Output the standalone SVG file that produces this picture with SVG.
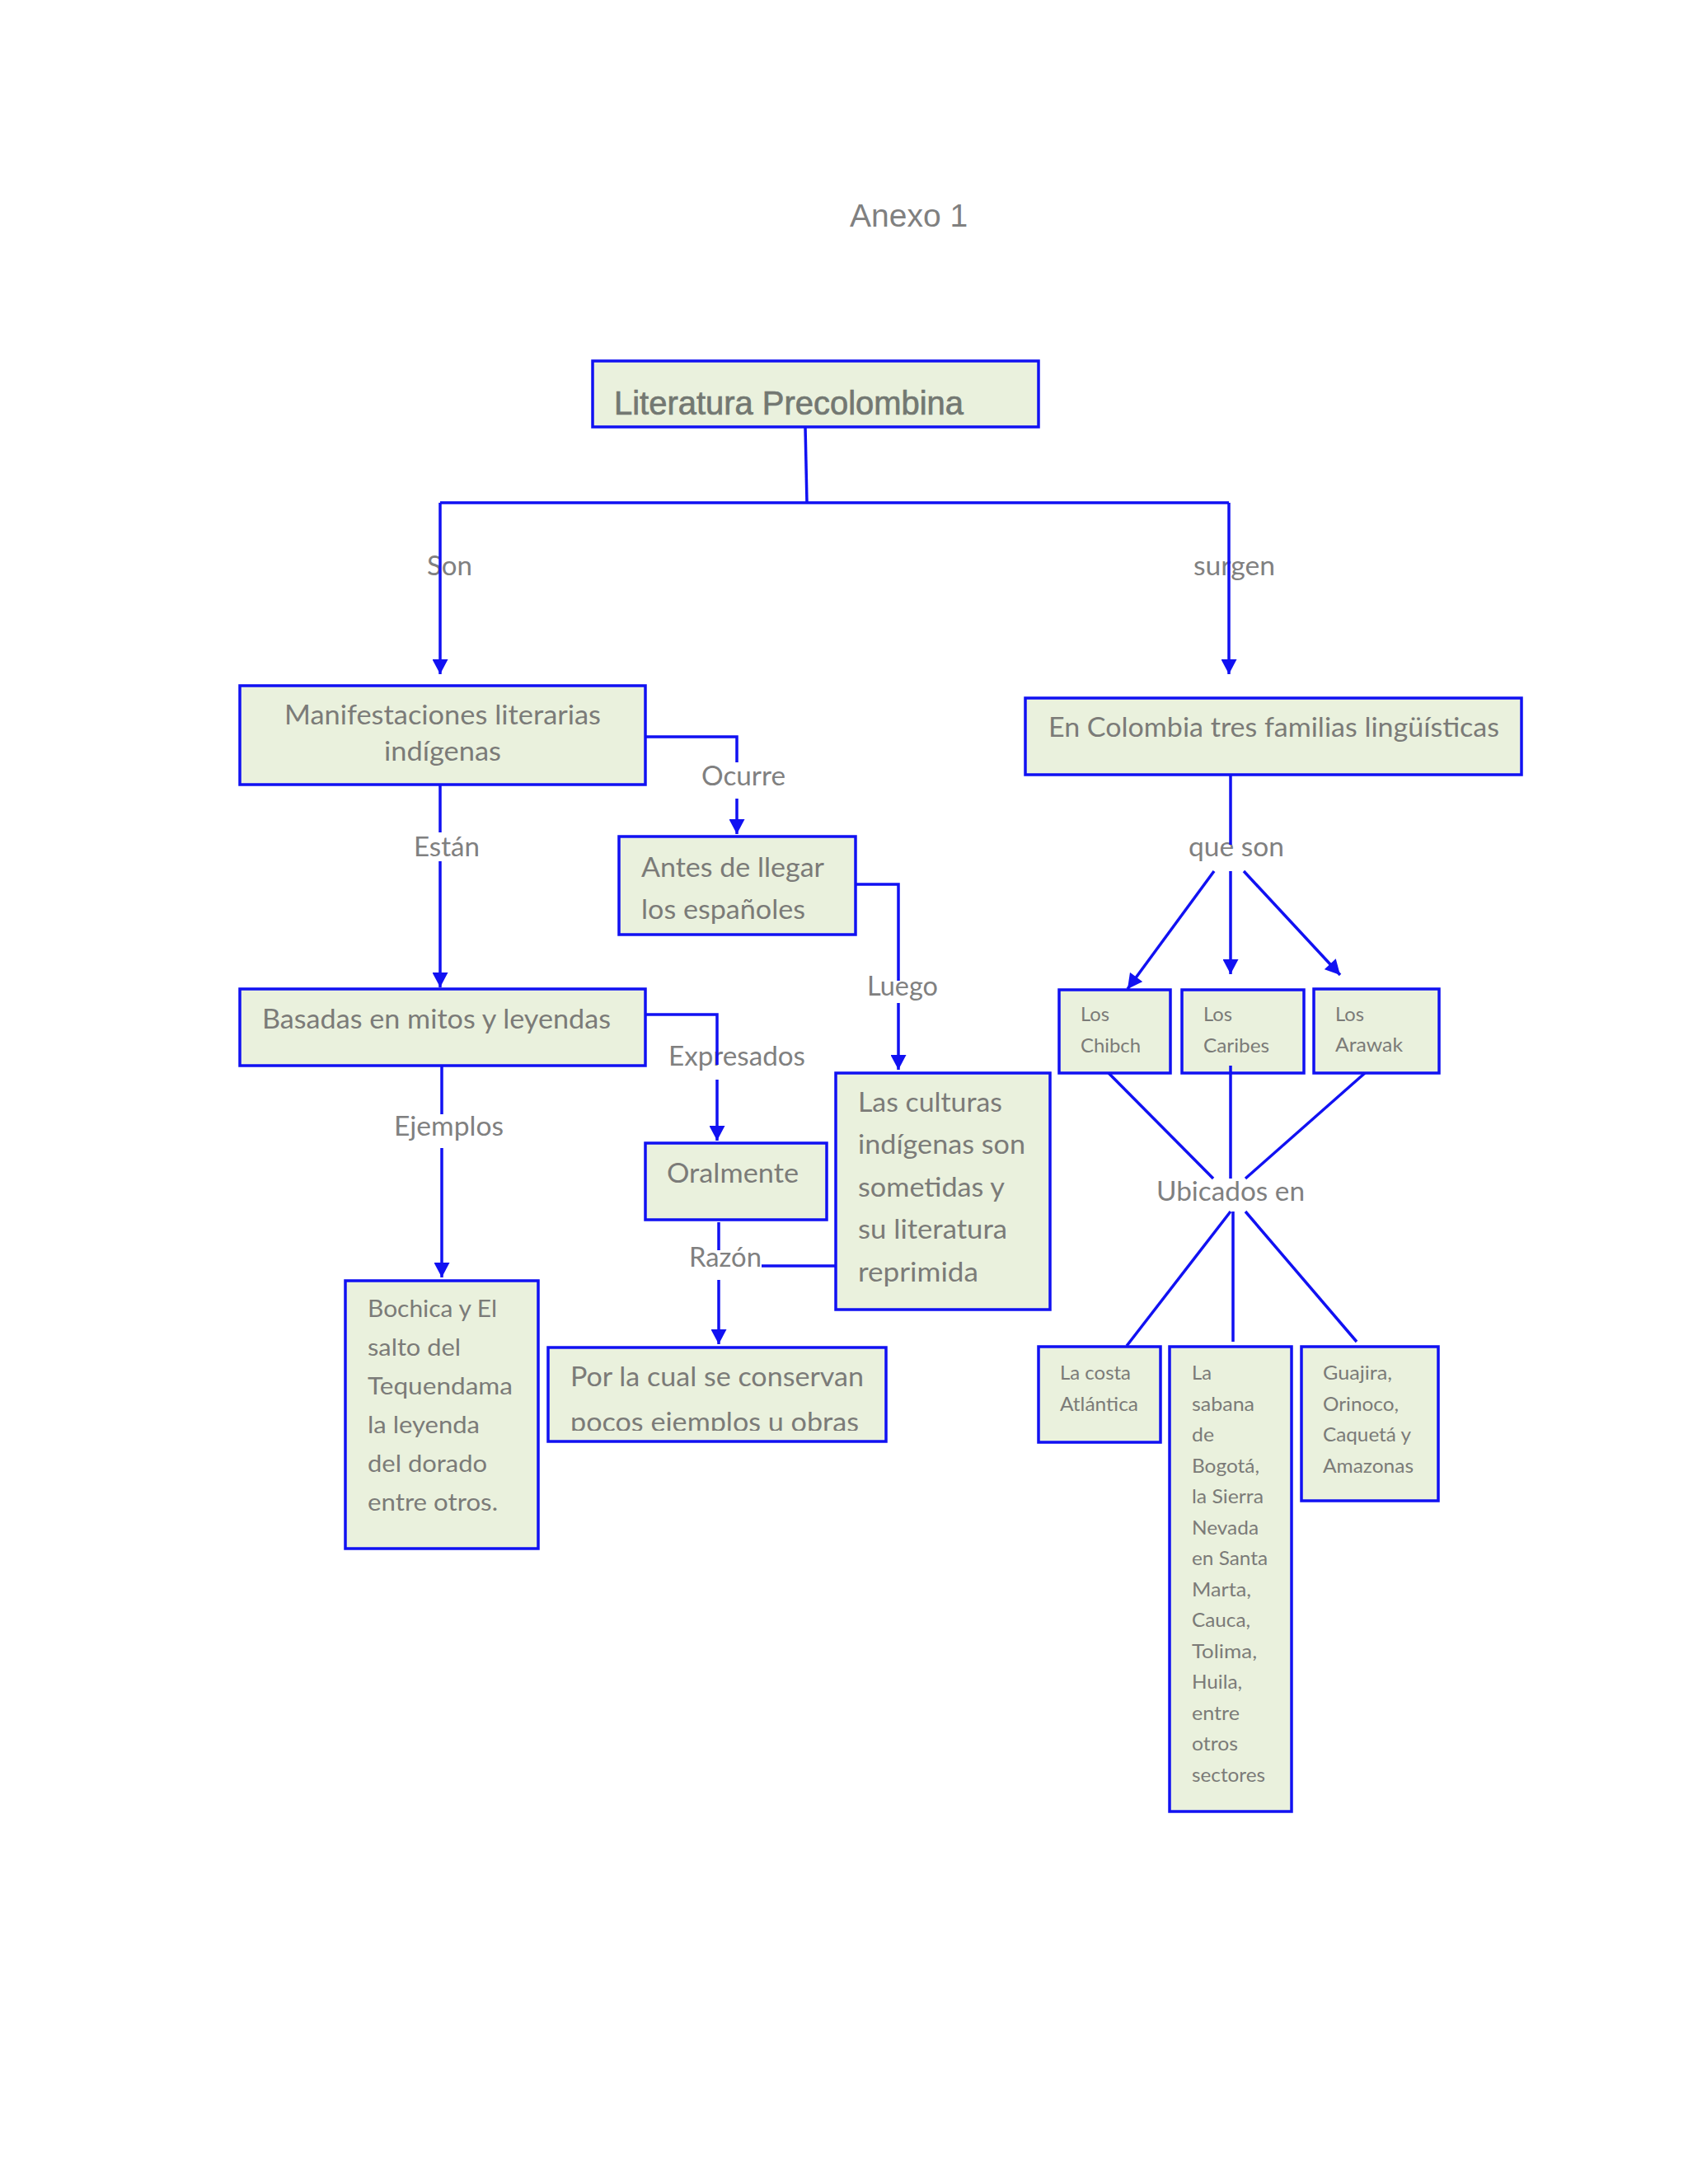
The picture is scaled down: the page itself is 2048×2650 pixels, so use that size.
<svg xmlns="http://www.w3.org/2000/svg" width="2048" height="2650" viewBox="0 0 2048 2650">
<defs>
<style>
.box{fill:#eaf1dd;stroke:#1111f2;stroke-width:3.5}
.t{font-family:Lato,"Open Sans","Liberation Sans",sans-serif;fill:#7b7b78;font-size:33px}
.b{font-size:29.7px}
.s{font-size:23.7px}
.lbl{font-family:Lato,"Open Sans","Liberation Sans",sans-serif;fill:#808080;font-size:33px}
.c{fill:none;stroke:#1111f2;stroke-width:3.5}
.a{marker-end:url(#ah)}
</style>
<marker id="ah" markerUnits="userSpaceOnUse" markerWidth="19" markerHeight="19" viewBox="0 0 18 19" refX="18" refY="9.5" orient="auto"><path d="M0,0 L18,9.5 L0,19 z" fill="#1111f2"/></marker>
<clipPath id="clipPor"><rect x="665" y="1635" width="410" height="101"/></clipPath>
</defs>
<rect width="2048" height="2650" fill="#ffffff"/>
<text x="1031" y="275" font-family="Liberation Sans, Arial, sans-serif" font-size="39" fill="#808080">Anexo 1</text>

<g id="labels">
<text class="lbl" x="518" y="698" textLength="55" lengthAdjust="spacingAndGlyphs">Son</text>
<text class="lbl" x="1448" y="698" textLength="99" lengthAdjust="spacingAndGlyphs">surgen</text>
<text class="lbl" x="851" y="953" textLength="102" lengthAdjust="spacingAndGlyphs">Ocurre</text>
<text class="lbl" x="502" y="1039" textLength="80" lengthAdjust="spacingAndGlyphs">Están</text>
<text class="lbl" x="1052" y="1208" textLength="86" lengthAdjust="spacingAndGlyphs">Luego</text>
<text class="lbl" x="811" y="1293" textLength="166" lengthAdjust="spacingAndGlyphs">Expresados</text>
<text class="lbl" x="478" y="1378" textLength="133" lengthAdjust="spacingAndGlyphs">Ejemplos</text>
<text class="lbl" x="836" y="1537" textLength="88" lengthAdjust="spacingAndGlyphs">Razón</text>
<text class="lbl" x="1442" y="1039" textLength="116" lengthAdjust="spacingAndGlyphs">que son</text>
<text class="lbl" x="1403" y="1457" textLength="180" lengthAdjust="spacingAndGlyphs">Ubicados en</text>
</g>

<g id="n1">
<rect class="box" x="719" y="438" width="541" height="80"/>
<text x="745" y="503" font-family="Liberation Sans, Arial, sans-serif" font-size="40" fill="#737872" stroke="#737872" stroke-width="0.7" textLength="424" lengthAdjust="spacingAndGlyphs">Literatura Precolombina</text>
</g>
<g id="n2">
<rect class="box" x="291" y="832" width="492" height="120"/>
<text class="t" x="537" y="879" text-anchor="middle" textLength="384" lengthAdjust="spacingAndGlyphs">Manifestaciones literarias</text>
<text class="t" x="537" y="923" text-anchor="middle" textLength="142" lengthAdjust="spacingAndGlyphs">indígenas</text>
</g>
<g id="n3">
<rect class="box" x="1244" y="847" width="602" height="93"/>
<text class="t" x="1272" y="894" textLength="547" lengthAdjust="spacingAndGlyphs">En Colombia tres familias lingüísticas</text>
</g>
<g id="n4">
<rect class="box" x="751" y="1015" width="287" height="119"/>
<text class="t" x="778" y="1064" textLength="222" lengthAdjust="spacingAndGlyphs">Antes de llegar</text>
<text class="t" x="778" y="1115" textLength="199" lengthAdjust="spacingAndGlyphs">los españoles</text>
</g>
<g id="n5">
<rect class="box" x="291" y="1200" width="492" height="93"/>
<text class="t" x="318" y="1248" textLength="423" lengthAdjust="spacingAndGlyphs">Basadas en mitos y leyendas</text>
</g>
<g id="n6">
<rect class="box" x="783" y="1387" width="220" height="93"/>
<text class="t" x="809" y="1435" textLength="160" lengthAdjust="spacingAndGlyphs">Oralmente</text>
</g>
<g id="n7">
<rect class="box" x="1014" y="1302" width="260" height="287"/>
<text class="t" x="1041" y="1349" textLength="175" lengthAdjust="spacingAndGlyphs">Las culturas</text>
<text class="t" x="1041" y="1400" textLength="203" lengthAdjust="spacingAndGlyphs">indígenas son</text>
<text class="t" x="1041" y="1452" textLength="178" lengthAdjust="spacingAndGlyphs">sometidas y</text>
<text class="t" x="1041" y="1503" textLength="181" lengthAdjust="spacingAndGlyphs">su literatura</text>
<text class="t" x="1041" y="1555" textLength="146" lengthAdjust="spacingAndGlyphs">reprimida</text>
</g>
<g id="n8">
<rect class="box" x="419" y="1554" width="234" height="325"/>
<text class="t b" x="446" y="1598" textLength="157" lengthAdjust="spacingAndGlyphs">Bochica y El</text>
<text class="t b" x="446" y="1645" textLength="113" lengthAdjust="spacingAndGlyphs">salto del</text>
<text class="t b" x="446" y="1692" textLength="176" lengthAdjust="spacingAndGlyphs">Tequendama</text>
<text class="t b" x="446" y="1739" textLength="136" lengthAdjust="spacingAndGlyphs">la leyenda</text>
<text class="t b" x="446" y="1786" textLength="145" lengthAdjust="spacingAndGlyphs">del dorado</text>
<text class="t b" x="446" y="1833" textLength="158" lengthAdjust="spacingAndGlyphs">entre otros.</text>
</g>
<g id="n9">
<rect class="box" x="665" y="1635" width="410" height="114"/>
<g clip-path="url(#clipPor)">
<text class="t" x="692" y="1682" textLength="356" lengthAdjust="spacingAndGlyphs">Por la cual se conservan</text>
<text class="t" x="692" y="1737" textLength="350" lengthAdjust="spacingAndGlyphs">pocos ejemplos u obras</text>
</g>
</g>
<g id="n10">
<rect class="box" x="1285" y="1201" width="135" height="101"/>
<text class="t s" x="1311" y="1239" textLength="35" lengthAdjust="spacingAndGlyphs">Los</text>
<text class="t s" x="1311" y="1277" textLength="73" lengthAdjust="spacingAndGlyphs">Chibch</text>
</g>
<g id="n11">
<rect class="box" x="1434" y="1201" width="148" height="101"/>
<text class="t s" x="1460" y="1239" textLength="35" lengthAdjust="spacingAndGlyphs">Los</text>
<text class="t s" x="1460" y="1277" textLength="80" lengthAdjust="spacingAndGlyphs">Caribes</text>
</g>
<g id="n12">
<rect class="box" x="1594" y="1200" width="152" height="102"/>
<text class="t s" x="1620" y="1239" textLength="35" lengthAdjust="spacingAndGlyphs">Los</text>
<text class="t s" x="1620" y="1276" textLength="82" lengthAdjust="spacingAndGlyphs">Arawak</text>
</g>
<g id="n13">
<rect class="box" x="1260" y="1634" width="148" height="116"/>
<text class="t s" x="1286" y="1674" textLength="86" lengthAdjust="spacingAndGlyphs">La costa</text>
<text class="t s" x="1286" y="1712" textLength="95" lengthAdjust="spacingAndGlyphs">Atlántica</text>
</g>
<g id="n14">
<rect class="box" x="1419" y="1634" width="148" height="564"/>
<text class="t s" x="1446" y="1674" textLength="24" lengthAdjust="spacingAndGlyphs">La</text>
<text class="t s" x="1446" y="1711.5" textLength="76" lengthAdjust="spacingAndGlyphs">sabana</text>
<text class="t s" x="1446" y="1749" textLength="27" lengthAdjust="spacingAndGlyphs">de</text>
<text class="t s" x="1446" y="1786.5" textLength="82" lengthAdjust="spacingAndGlyphs">Bogotá,</text>
<text class="t s" x="1446" y="1824" textLength="87" lengthAdjust="spacingAndGlyphs">la Sierra</text>
<text class="t s" x="1446" y="1861.5" textLength="81" lengthAdjust="spacingAndGlyphs">Nevada</text>
<text class="t s" x="1446" y="1899" textLength="92" lengthAdjust="spacingAndGlyphs">en Santa</text>
<text class="t s" x="1446" y="1936.5" textLength="72" lengthAdjust="spacingAndGlyphs">Marta,</text>
<text class="t s" x="1446" y="1974" textLength="71" lengthAdjust="spacingAndGlyphs">Cauca,</text>
<text class="t s" x="1446" y="2011.5" textLength="79" lengthAdjust="spacingAndGlyphs">Tolima,</text>
<text class="t s" x="1446" y="2049" textLength="61" lengthAdjust="spacingAndGlyphs">Huila,</text>
<text class="t s" x="1446" y="2086.5" textLength="58" lengthAdjust="spacingAndGlyphs">entre</text>
<text class="t s" x="1446" y="2124" textLength="56" lengthAdjust="spacingAndGlyphs">otros</text>
<text class="t s" x="1446" y="2161.5" textLength="89" lengthAdjust="spacingAndGlyphs">sectores</text>
</g>
<g id="n15">
<rect class="box" x="1579" y="1634" width="166" height="187"/>
<text class="t s" x="1605" y="1674" textLength="84" lengthAdjust="spacingAndGlyphs">Guajira,</text>
<text class="t s" x="1605" y="1712" textLength="92" lengthAdjust="spacingAndGlyphs">Orinoco,</text>
<text class="t s" x="1605" y="1749" textLength="107" lengthAdjust="spacingAndGlyphs">Caquetá y</text>
<text class="t s" x="1605" y="1787" textLength="110" lengthAdjust="spacingAndGlyphs">Amazonas</text>
</g>

<g id="connectors">
<path class="c" d="M977,518 L979,610"/>
<path class="c" d="M534,610 L1491,610"/>
<path class="c a" d="M534,610 L534,818"/>
<path class="c a" d="M1491,610 L1491,818"/>
<path class="c" d="M783,894 L894,894 L894,925"/>
<path class="c a" d="M894,969 L894,1012"/>
<path class="c" d="M534,952 L534,1010"/>
<path class="c a" d="M534,1045 L534,1198"/>
<path class="c" d="M1038,1073 L1090,1073 L1090,1190"/>
<path class="c a" d="M1090,1217 L1090,1298"/>
<path class="c" d="M783,1231 L870,1231 L870,1292"/>
<path class="c a" d="M870,1310 L870,1384"/>
<path class="c" d="M536,1293 L536,1352"/>
<path class="c a" d="M536,1393 L536,1550"/>
<path class="c" d="M872,1483 L872,1517"/>
<path class="c a" d="M872,1553 L872,1631"/>
<path class="c" d="M924,1536 L1014,1536"/>
<path class="c" d="M1493,940 L1493,1025"/>
<path class="c a" d="M1473,1057 L1368,1200"/>
<path class="c a" d="M1493,1057 L1493,1182"/>
<path class="c a" d="M1509,1057 L1626,1183"/>
<path class="c" d="M1345,1302 L1472,1430"/>
<path class="c" d="M1493,1293 L1493,1430"/>
<path class="c" d="M1656,1302 L1511,1430"/>
<path class="c" d="M1493,1470 L1367,1633"/>
<path class="c" d="M1496,1470 L1496,1628"/>
<path class="c" d="M1511,1470 L1646,1628"/>
</g>
</svg>
